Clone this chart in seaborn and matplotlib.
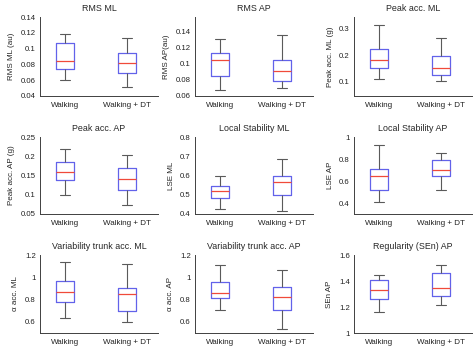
import matplotlib
matplotlib.use("Agg")
import matplotlib.pyplot as plt
import seaborn as sns
import pandas as pd

sns.set_style("white")
plt.rcParams["font.family"] = ["Liberation Sans", "DejaVu Sans"]

conditions = ["Walking", "Walking + DT"]

# Five-number summaries per condition: [min, q1, median, q3, max]
rms_ml_walk = [0.0608, 0.0743, 0.0845, 0.107, 0.118]
rms_ml_dt = [0.0514, 0.0697, 0.0815, 0.0942, 0.1137]
rms_ap_walk = [0.0675, 0.0854, 0.1042, 0.1133, 0.1304]
rms_ap_dt = [0.0704, 0.0783, 0.0913, 0.105, 0.136]
peak_ml_walk = [0.109, 0.1516, 0.181, 0.2245, 0.313]
peak_ml_dt = [0.1026, 0.1245, 0.150, 0.196, 0.267]
peak_ap_walk = [0.099, 0.138, 0.160, 0.1845, 0.2198]
peak_ap_dt = [0.0733, 0.113, 0.142, 0.1707, 0.204]
lse_ml_walk = [0.427, 0.485, 0.517, 0.547, 0.595]
lse_ml_dt = [0.415, 0.498, 0.564, 0.595, 0.685]
lse_ap_walk = [0.406, 0.515, 0.648, 0.713, 0.929]
lse_ap_dt = [0.521, 0.648, 0.701, 0.790, 0.852]
alpha_ml_walk = [0.637, 0.780, 0.871, 0.966, 1.133]
alpha_ml_dt = [0.597, 0.700, 0.853, 0.905, 1.121]
alpha_ap_walk = [0.705, 0.810, 0.858, 0.954, 1.107]
alpha_ap_dt = [0.537, 0.705, 0.822, 0.915, 1.068]
sen_ap_walk = [1.158, 1.265, 1.327, 1.406, 1.447]
sen_ap_dt = [1.215, 1.286, 1.345, 1.465, 1.523]

titles = ["RMS ML", "RMS AP", "Peak acc. ML",
          "Peak acc. AP", "Local Stability ML", "Local Stability AP",
          "Variability trunk acc. ML", "Variability trunk acc. AP", "Regularity (SEn) AP"]
ylabels = ["RMS ML (au)", "RMS AP(au)", "Peak acc. ML (g)",
           "Peak acc. AP (g)", "LSE ML", "LSE AP",
           "\u03b1 acc. ML", "\u03b1 acc. AP", "SEn AP"]
series = [(rms_ml_walk, rms_ml_dt), (rms_ap_walk, rms_ap_dt), (peak_ml_walk, peak_ml_dt),
          (peak_ap_walk, peak_ap_dt), (lse_ml_walk, lse_ml_dt), (lse_ap_walk, lse_ap_dt),
          (alpha_ml_walk, alpha_ml_dt), (alpha_ap_walk, alpha_ap_dt), (sen_ap_walk, sen_ap_dt)]
ylims = [(0.04, 0.14), (0.06, 0.158), (0.045, 0.345),
         (0.05, 0.25), (0.4, 0.8), (0.3, 1.0),
         (0.5, 1.2), (0.5, 1.2), (1.0, 1.6)]
yticks = [[0.04, 0.06, 0.08, 0.1, 0.12, 0.14],
          [0.06, 0.08, 0.1, 0.12, 0.14],
          [0.1, 0.2, 0.3],
          [0.05, 0.1, 0.15, 0.2, 0.25],
          [0.4, 0.5, 0.6, 0.7, 0.8],
          [0.4, 0.6, 0.8, 1.0],
          [0.6, 0.8, 1.0, 1.2],
          [0.6, 0.8, 1.0, 1.2],
          [1.0, 1.2, 1.4, 1.6]]
yticklabels = [["0.04", "0.06", "0.08", "0.1", "0.12", "0.14"],
               ["0.06", "0.08", "0.1", "0.12", "0.14"],
               ["0.1", "0.2", "0.3"],
               ["0.05", "0.1", "0.15", "0.2", "0.25"],
               ["0.4", "0.5", "0.6", "0.7", "0.8"],
               ["0.4", "0.6", "0.8", "1"],
               ["0.6", "0.8", "1", "1.2"],
               ["0.6", "0.8", "1", "1.2"],
               ["1", "1.2", "1.4", "1.6"]]

W, H = 474, 349
fig = plt.figure(figsize=(W / 100, H / 100), dpi=100)

col_left = [40, 195, 354]
row_top = [17, 137, 255]
row_bottom = [96, 214, 333]
ax_w = 118

for i in range(9):
    r, c = divmod(i, 3)
    left = col_left[c]
    ax = fig.add_axes([left / W, 1 - row_bottom[r] / H, ax_w / W,
                       (row_bottom[r] - row_top[r]) / H])
    walk, dt = series[i]
    df = pd.DataFrame({
        "cond": [conditions[0]] * len(walk) + [conditions[1]] * len(dt),
        "val": list(walk) + list(dt),
    })
    sns.boxplot(data=df, x="cond", y="val", ax=ax, whis=(0, 100), width=0.3,
                fill=False, linecolor="#6262ea", linewidth=0.9,
                boxprops=dict(color="#6262ea", linewidth=0.9),
                medianprops=dict(color="#f04a3a", linewidth=0.9),
                whiskerprops=dict(color="#5a5a5a", linewidth=0.8),
                capprops=dict(color="#5a5a5a", linewidth=0.8))
    ax.set_xlim(0.6 - 1, 2.5 - 1)
    ax.set_ylim(*ylims[i])
    ax.set_yticks(yticks[i])
    ax.set_yticklabels(yticklabels[i])
    ax.set_xlabel("")
    ax.set_ylabel(ylabels[i], fontsize=5.8, labelpad=4)
    ax.set_title(titles[i], fontsize=6.4, pad=4)
    ax.tick_params(axis="y", direction="in", length=2, width=0.6,
                   labelsize=5.6, pad=3, colors="#222222")
    ax.tick_params(axis="x", length=0, labelsize=5.8, pad=4, colors="#222222")
    for s in ["top", "right"]:
        ax.spines[s].set_visible(False)
    for s in ["left", "bottom"]:
        ax.spines[s].set_color("#404040")
        ax.spines[s].set_linewidth(0.7)

fig.savefig("out.png", dpi=100, facecolor="white")
